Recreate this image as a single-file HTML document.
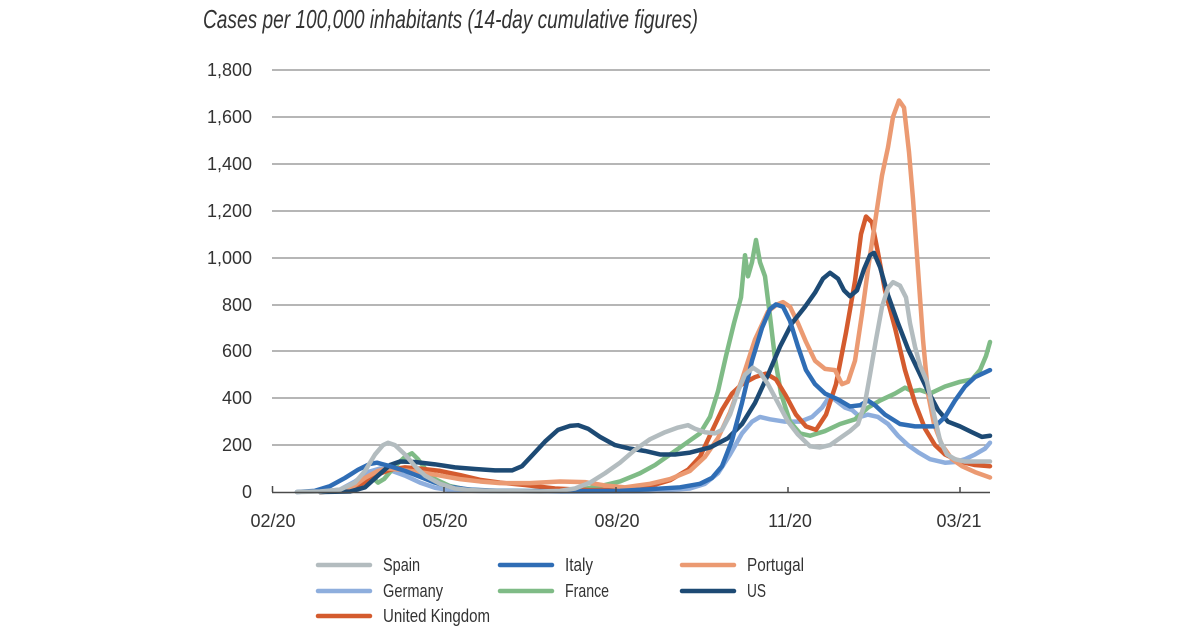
<!DOCTYPE html>
<html>
<head>
<meta charset="utf-8">
<style>
  html,body{margin:0;padding:0;background:#fff;}
  svg{display:block;}
  text{font-family:"Liberation Sans",sans-serif;fill:#333;}
</style>
</head>
<body>
<svg width="1200" height="630" viewBox="0 0 1200 630" xmlns="http://www.w3.org/2000/svg">
  <rect width="1200" height="630" fill="#fff"/>
  <text x="203" y="28" font-size="26" font-style="italic" textLength="495" lengthAdjust="spacingAndGlyphs" fill="#1e1e1e">Cases per 100,000 inhabitants (14-day cumulative figures)</text>

  <!-- gridlines -->
  <g stroke="#9d9d9d" stroke-width="1.4">
    <line x1="272" x2="990" y1="70" y2="70"/>
    <line x1="272" x2="990" y1="117" y2="117"/>
    <line x1="272" x2="990" y1="164" y2="164"/>
    <line x1="272" x2="990" y1="211" y2="211"/>
    <line x1="272" x2="990" y1="258" y2="258"/>
    <line x1="272" x2="990" y1="305" y2="305"/>
    <line x1="272" x2="990" y1="351" y2="351"/>
    <line x1="272" x2="990" y1="398" y2="398"/>
    <line x1="272" x2="990" y1="445" y2="445"/>
  </g>

  <!-- y labels -->
  <g font-size="18" text-anchor="end" fill="#333">
    <text x="252" y="76">1,800</text>
    <text x="252" y="123">1,600</text>
    <text x="252" y="170">1,400</text>
    <text x="252" y="217">1,200</text>
    <text x="252" y="264">1,000</text>
    <text x="252" y="311">800</text>
    <text x="252" y="357">600</text>
    <text x="252" y="404">400</text>
    <text x="252" y="451">200</text>
    <text x="252" y="498">0</text>
  </g>

  <!-- series -->
  <g transform="translate(0,492) scale(1,-0.23444)" fill="none" stroke-width="4.5" stroke-linejoin="round" stroke-linecap="round">
    <polyline vector-effect="non-scaling-stroke" stroke="#8eaedd" points="320,0 340,10 355,45 368,85 380,100 392,90 405,70 420,40 435,18 450,8 480,4 550,2 650,3 690,15 705,35 718,80 730,160 742,250 752,300 760,320 770,310 785,300 800,300 812,320 822,360 830,410 836,390 845,360 852,350 860,320 868,330 878,320 888,290 898,240 908,200 918,170 930,140 945,125 955,128 965,140 975,160 985,185 990,210"/>
    <polyline vector-effect="non-scaling-stroke" stroke="#7fbb86" points="320,0 340,5 355,25 365,55 373,60 378,40 384,55 395,110 405,150 412,165 418,140 425,100 435,55 450,25 465,12 490,5 560,3 580,10 600,25 620,45 640,80 655,115 670,160 685,205 700,250 710,320 718,430 726,580 734,720 741,830 745,1010 748,920 752,980 756,1075 760,980 765,920 770,750 775,570 781,420 790,300 800,250 810,240 825,260 840,290 855,310 868,360 880,390 895,420 905,445 912,430 920,435 930,420 945,450 960,470 972,480 980,520 986,580 990,640"/>
    <polyline vector-effect="non-scaling-stroke" stroke="#d45b2e" points="320,0 345,5 360,30 375,70 390,95 405,105 420,100 440,90 460,72 480,52 500,40 525,30 555,15 590,8 625,10 650,25 670,50 688,95 700,150 712,260 722,350 732,420 742,460 755,490 766,505 776,480 786,410 796,330 806,280 816,265 826,330 836,460 846,680 855,900 861,1100 866,1175 872,1150 878,1020 885,860 895,700 905,520 915,380 925,270 935,200 945,160 960,130 975,115 990,110"/>
    <polyline vector-effect="non-scaling-stroke" stroke="#eb9a72" points="320,0 340,5 352,20 365,60 378,90 388,100 400,95 420,85 440,70 460,55 480,45 500,38 530,38 560,45 585,42 605,28 625,20 650,35 670,55 690,90 705,150 718,230 730,340 742,480 755,650 768,770 777,800 783,810 790,790 798,720 806,640 815,560 825,525 835,520 842,460 848,470 855,560 862,760 868,950 875,1150 882,1350 888,1470 893,1600 899,1670 904,1640 909,1450 913,1250 918,950 923,650 928,420 934,290 942,200 952,140 962,110 975,85 990,62"/>
    <polyline vector-effect="non-scaling-stroke" stroke="#1d4a74" points="320,0 350,2 365,20 378,70 390,115 400,130 415,128 435,118 455,105 475,98 495,92 512,92 522,110 533,160 545,215 558,265 570,282 578,285 588,270 600,235 615,200 630,185 645,175 660,160 675,160 690,168 710,190 728,230 742,290 755,380 768,500 780,620 792,720 805,790 815,850 823,910 830,935 838,910 844,860 850,835 857,860 864,950 870,1010 874,1020 880,960 888,840 898,720 908,610 918,520 928,430 938,350 948,300 960,280 972,255 982,235 990,240"/>
    <polyline vector-effect="non-scaling-stroke" stroke="#2f6db5" points="297,0 315,5 330,25 345,60 358,95 370,120 377,125 390,110 405,90 420,65 435,40 450,22 470,10 500,5 560,3 620,5 650,12 680,20 700,35 712,60 722,110 732,220 742,380 752,560 762,700 770,780 776,800 783,790 790,730 798,620 806,520 815,460 825,420 838,395 850,365 860,370 868,390 875,370 885,330 900,290 915,280 935,280 945,320 955,390 965,450 975,490 985,510 990,520"/>
    <polyline vector-effect="non-scaling-stroke" stroke="#b3bcbf" points="297,0 320,2 340,10 355,40 365,90 375,160 383,200 388,210 395,200 405,160 415,110 425,70 440,35 455,15 470,8 500,4 540,2 560,5 575,15 590,40 605,80 620,125 635,180 650,225 665,255 678,275 688,285 695,270 705,255 715,250 722,265 730,330 738,430 745,500 753,530 760,510 768,460 778,380 788,300 798,245 810,195 820,190 830,200 840,230 850,260 858,290 865,380 870,500 876,650 882,790 888,870 893,895 900,880 906,830 910,720 915,620 920,540 927,470 933,350 940,220 947,160 955,140 965,130 990,130"/>
  </g>

  <!-- x axis -->
  <line x1="272" x2="990" y1="492.5" y2="492.5" stroke="#4a4a4a" stroke-width="1.5"/>
  <g stroke="#4a4a4a" stroke-width="1.5">
    <line x1="272.5" x2="272.5" y1="486" y2="492"/>
    <line x1="444" x2="444" y1="487" y2="492"/>
    <line x1="616" x2="616" y1="487" y2="492"/>
    <line x1="788" x2="788" y1="487" y2="492"/>
    <line x1="960" x2="960" y1="487" y2="492"/>
  </g>
  <g font-size="18" text-anchor="middle" fill="#333">
    <text x="273" y="527">02/20</text>
    <text x="445" y="527">05/20</text>
    <text x="617" y="527">08/20</text>
    <text x="790" y="527">11/20</text>
    <text x="959" y="527">03/21</text>
  </g>

  <!-- legend -->
  <g stroke-width="4.5" stroke-linecap="round">
    <line x1="318" x2="370" y1="565" y2="565" stroke="#b3bcbf"/>
    <line x1="500" x2="552" y1="565" y2="565" stroke="#2f6db5"/>
    <line x1="682" x2="734" y1="565" y2="565" stroke="#eb9a72"/>
    <line x1="318" x2="370" y1="591" y2="591" stroke="#8eaedd"/>
    <line x1="500" x2="552" y1="591" y2="591" stroke="#7fbb86"/>
    <line x1="682" x2="734" y1="591" y2="591" stroke="#1d4a74"/>
    <line x1="318" x2="370" y1="616" y2="616" stroke="#d45b2e"/>
  </g>
  <g font-size="18" fill="#222">
    <text x="383" y="571" textLength="37" lengthAdjust="spacingAndGlyphs">Spain</text>
    <text x="565" y="571" textLength="28" lengthAdjust="spacingAndGlyphs">Italy</text>
    <text x="747" y="571" textLength="57" lengthAdjust="spacingAndGlyphs">Portugal</text>
    <text x="383" y="597" textLength="60" lengthAdjust="spacingAndGlyphs">Germany</text>
    <text x="565" y="597" textLength="44" lengthAdjust="spacingAndGlyphs">France</text>
    <text x="747" y="597" textLength="19" lengthAdjust="spacingAndGlyphs">US</text>
    <text x="383" y="622" textLength="107" lengthAdjust="spacingAndGlyphs">United Kingdom</text>
  </g>
</svg>
</body>
</html>
